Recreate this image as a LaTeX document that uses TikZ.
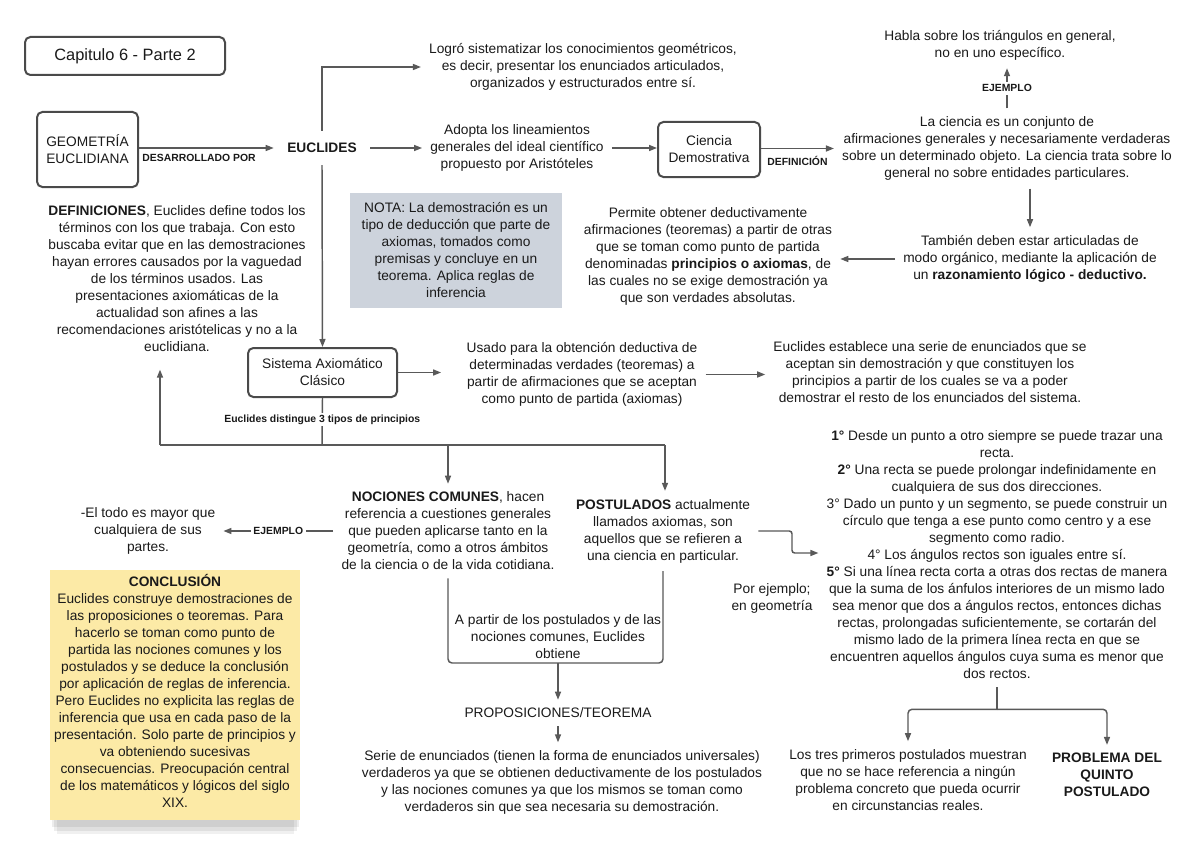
\documentclass[tikz,border=0pt]{standalone}
\usepackage{fontspec}
\setmainfont{Liberation Sans}
\usetikzlibrary{arrows.meta}
\definecolor{txt}{HTML}{1A1A1A}
\definecolor{ln}{HTML}{595959}
\definecolor{bx}{HTML}{4A4A4A}
\definecolor{notafill}{HTML}{CDD3DC}
\definecolor{concfill}{HTML}{FCEAA6}
\begin{document}
\begin{tikzpicture}[x=0.75pt,y=-0.75pt,
  every node/.style={text=txt},
  txtn/.style={align=center, font=\fontsize{10.3}{12.75}\selectfont, inner sep=6pt},
  box/.style={draw=bx, line width=1.5pt, rounded corners=4pt, fill=white, align=center, font=\fontsize{10.3}{12.75}\selectfont},
  lbl/.style={font=\bfseries\fontsize{7.8}{9}\selectfont, inner sep=1pt},
  conn/.style={draw=ln, line width=1.1pt},
  arr/.style={conn, -{Triangle[length=6pt,width=4.5pt]}},
]
\fill[white] (0,0) rectangle (1200,849);
\useasboundingbox (0,0) rectangle (1200,849);

% boxes
\node[box, minimum width=150pt, minimum height=28.5pt, font=\fontsize{12.3}{14}\selectfont] (title) at (125,56) {Capitulo 6 - Parte 2};
\node[box, minimum width=75.75pt, minimum height=56.25pt] (geo) at (87.5,149.5) {GEOMETRÍA\\EUCLIDIANA};
\node[box, minimum width=76.5pt, minimum height=41.25pt] (ciencia) at (709,149.5) {Ciencia\\Demostrativa};
\node[box, minimum width=111.75pt, minimum height=36.75pt] (sistema) at (322.5,372.5) {Sistema Axiomático\\Clásico};

% text nodes
\node[txtn, font=\bfseries\fontsize{10.3}{12.75}\selectfont, inner xsep=10pt, inner ysep=9pt] (euclides) at (322,148) {EUCLIDES};
\node[txtn] (logro) at (583,67) {Logró sistematizar los conocimientos geométricos,\\es decir, presentar los enunciados articulados,\\organizados y estructurados entre sí.};
\node[txtn] (adopta) at (517,148) {Adopta los lineamientos\\generales del ideal científico\\propuesto por Aristóteles};
\node[txtn] (laciencia) at (1007,148.5) {La ciencia es un conjunto de\\afirmaciones generales y necesariamente verdaderas\\sobre un determinado objeto. La ciencia trata sobre lo\\general no sobre entidades particulares.};
\node[txtn] (habla) at (1000,45) {Habla sobre los triángulos en general,\\no en uno específico.};
\node[txtn] (tambien) at (1030,259) {También deben estar articuladas de\\modo orgánico, mediante la aplicación de\\un \textbf{razonamiento lógico - deductivo.}};
\node[txtn] (permite) at (708,256) {Permite obtener deductivamente\\afirmaciones (teoremas) a partir de otras\\que se toman como punto de partida\\denominadas \textbf{principios o axiomas}, de\\las cuales no se exige demostración ya\\que son verdades absolutas.};
\node[txtn, fill=notafill, minimum width=159pt, minimum height=86.25pt] (nota) at (456,250.5) {NOTA: La demostración es un\\tipo de deducción que parte de\\axiomas, tomados como\\premisas y concluye en un\\teorema. Aplica reglas de\\inferencia};
\node[txtn] (defin) at (177,279) {\textbf{DEFINICIONES}, Euclides define todos los\\términos con los que trabaja. Con esto\\buscaba evitar que en las demostraciones\\hayan errores causados por la vaguedad\\de los términos usados. Las\\presentaciones axiomáticas de la\\actualidad son afines a las\\recomendaciones aristótelicas y no a la\\euclidiana.};
\node[txtn] (usado) at (582,374.5) {Usado para la obtención deductiva de\\determinadas verdades (teoremas) a\\partir de afirmaciones que se aceptan\\como punto de partida (axiomas)};
\node[txtn] (establece) at (930,372.5) {Euclides establece una serie de enunciados que se\\aceptan sin demostración y que constituyen los\\principios a partir de los cuales se va a poder\\demostrar el resto de los enunciados del sistema.};
\node[txtn] (nociones) at (448,531) {\textbf{NOCIONES COMUNES}, hacen\\referencia a cuestiones generales\\que pueden aplicarse tanto en la\\geometría, como a otros ámbitos\\de la ciencia o de la vida cotidiana.};
\node[txtn] (eltodo) at (148,531) {-El todo es mayor que\\cualquiera de sus\\partes.};
\node[txtn] (postulados) at (663,531) {\textbf{POSTULADOS} actualmente\\llamados axiomas, son\\aquellos que se refieren a\\una ciencia en particular.};
\node[txtn] (porej) at (772,598) {Por ejemplo;\\en geometría};
\node[txtn] (postlist) at (997,555) {\textbf{1°} Desde un punto a otro siempre se puede trazar una\\recta.\\\textbf{2°} Una recta se puede prolongar indefinidamente en\\cualquiera de sus dos direcciones.\\3° Dado un punto y un segmento, se puede construir un\\círculo que tenga a ese punto como centro y a ese\\segmento como radio.\\4° Los ángulos rectos son iguales entre sí.\\\textbf{5°} Si una línea recta corta a otras dos rectas de manera\\que la suma de los ánfulos interiores de un mismo lado\\sea menor que dos a ángulos rectos, entonces dichas\\rectas, prolongadas suficientemente, se cortarán del\\mismo lado de la primera línea recta en que se\\encuentren aquellos ángulos cuya suma es menor que\\dos rectos.};
\node[txtn] (apartir) at (558,637) {A partir de los postulados y de las\\nociones comunes, Euclides\\obtiene};
\node[txtn] (prop) at (558,713) {PROPOSICIONES/TEOREMA};
\node[txtn] (serie) at (562,782.5) {Serie de enunciados (tienen la forma de enunciados universales)\\verdaderos ya que se obtienen deductivamente de los postulados\\y las nociones comunes ya que los mismos se toman como\\verdaderos sin que sea necesaria su demostración.};
\node[txtn] (lostres) at (908,780) {Los tres primeros postulados muestran\\que no se hace referencia a ningún\\problema concreto que pueda ocurrir\\en circunstancias reales.};
\node[txtn, font=\bfseries\fontsize{10.3}{12.75}\selectfont] (problema) at (1107,775) {PROBLEMA DEL\\QUINTO\\POSTULADO};

% conclusion with shadow
\fill[black, opacity=0.07] (52,576) rectangle (299,827);
\fill[black, opacity=0.07] (54,579) rectangle (297,831);
\fill[black, opacity=0.06] (57,582) rectangle (294,834);
\node[fill=concfill, minimum width=187.5pt, minimum height=187.5pt, inner sep=0pt] (concl) at (175,695) {};
\node[txtn, inner sep=0pt] (concltext) at (175,690.5) {\textbf{CONCLUSIÓN}\\Euclides construye demostraciones de\\las proposiciones o teoremas. Para\\hacerlo se toman como punto de\\partida las nociones comunes y los\\postulados y se deduce la conclusión\\por aplicación de reglas de inferencia.\\Pero Euclides no explicita las reglas de\\inferencia que usa en cada paso de la\\presentación. Solo parte de principios y\\va obteniendo sucesivas\\consecuencias. Preocupación central\\de los matemáticos y lógicos del siglo\\XIX.};

% connectors
\draw[arr] (geo.east |- euclides.west) -- (euclides.west) node[lbl, at start, anchor=north west, yshift=-3pt, xshift=1pt] {DESARROLLADO POR};
\draw[arr] (euclides.north) |- (logro.west);
\draw[arr] (euclides.east) -- (adopta.west);
\draw[arr] (adopta.east) -- (adopta.east -| ciencia.west);
\draw[arr] (ciencia.east |- laciencia.west) -- (laciencia.west) node[lbl, midway, below=4pt] {DEFINICIÓN};
\draw[arr] (laciencia.north) -- (laciencia.north |- habla.south) node[lbl, midway, fill=white, inner sep=2pt] {EJEMPLO};
\draw[arr] (tambien.north |- laciencia.south) -- (tambien.north);
\draw[arr] (tambien.west) -- (tambien.west -| permite.east);
\draw[arr] (euclides.south) -- (sistema.north);
\draw[arr] (sistema.east) -- ([xshift=-13pt]sistema.east -| usado.west);
\draw[arr] (usado.east) -- (usado.east -| establece.west);
\coordinate (j) at (322,445);
\coordinate (jl) at (160,445);
\coordinate (jr) at (665,445);
\draw[conn] (sistema.south) -- (j) node[lbl, pos=0.46, fill=white, inner sep=1.5pt] {Euclides distingue 3 tipos de principios};
\draw[conn] (jl) -- (jr);
\draw[arr, shorten >=7pt] (jl) -- (jl |- defin.south);
\draw[arr] (jl -| nociones.north) -- (nociones.north);
\draw[arr] (jr) -- (jr |- postulados.north);
\draw[arr] (nociones.west) -- (nociones.west -| eltodo.east) node[lbl, midway, fill=white, inner sep=2pt] {EJEMPLO};
\coordinate (pb) at (792,553);
\draw[arr, rounded corners=2pt] (postulados.east) -| (pb) -- (pb -| postlist.west);
\coordinate (apbot) at (558,663);
\draw[conn, rounded corners=3pt] (nociones.south) |- (apbot) -| (postulados.south);
\draw[arr] (apbot) -- (prop.north);
\draw[arr] (prop.south) -- (prop.south |- serie.north);
\path (postlist.south) ++(0,22) coordinate (fork);
\draw[conn] (postlist.south) -- (fork);
\draw[arr, rounded corners=3pt] (fork) -| (lostres.north);
\draw[arr, rounded corners=3pt] (fork) -| (problema.north);
\end{tikzpicture}
\end{document}
